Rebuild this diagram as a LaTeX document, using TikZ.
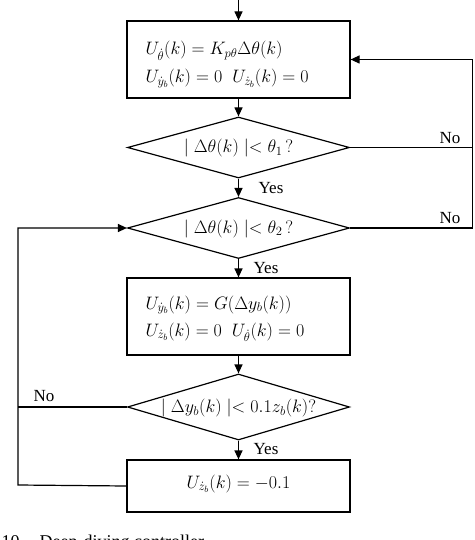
\RequirePackage{fix-cm}
\documentclass[tikz,border=0pt]{standalone}
\usepackage{fontspec}
\setmainfont{Liberation Serif}
\usetikzlibrary{shapes.geometric,arrows.meta}
\begin{document}
\begin{tikzpicture}[x=1pt,y=-1pt,
  line width=1.2pt,
  arr/.style={-{Triangle[length=9pt,width=8pt]}},
  procbox/.style={draw,minimum width=223pt,inner sep=0pt},
  decis/.style={draw,diamond,minimum width=222pt,minimum height=61pt,inner sep=0pt},
  mtext/.style={font=\fontsize{18}{22}\selectfont,inner sep=0pt},
  lbl/.style={font=\fontsize{17}{20}\selectfont,inner sep=0pt}]
\useasboundingbox (0,0) rectangle (474,540);
\node[procbox,minimum height=77pt] (b1) at (238.5,59.5) {};
\node[mtext,anchor=base west] (t11) at (145,55) {$U_{\dot\theta}(k)=K_{p\theta}\Delta\theta(k)$};
\node[mtext,anchor=base west] (t12) at (145,83) {$U_{\dot y_b}(k)=0\;\;U_{\dot z_b}(k)=0$};
\node[decis] (d1) at (238.5,147.5) {};
\node[mtext] (t2) at (238.5,148) {$\mid\Delta\theta(k)\mid< \theta_{1}\,?$};
\node[decis] (d2) at (238.5,228) {};
\node[mtext] (t3) at (238.5,228.5) {$\mid\Delta\theta(k)\mid< \theta_{2}\,?$};
\node[procbox,minimum height=77pt] (b2) at (238.5,316.5) {};
\node[mtext,anchor=base west] (t41) at (145,309) {$U_{\dot y_b}(k)=G(\Delta y_b(k))$};
\node[mtext,anchor=base west] (t42) at (145,336) {$U_{\dot z_b}(k)=0\;\;U_{\dot\theta}(k)=0$};
\node[decis,minimum height=66pt] (d3) at (238.5,407) {};
\node[mtext] (t5) at (238.5,408) {$\mid\Delta y_b(k)\mid< 0.1z_b(k)?$};
\node[procbox,minimum height=52pt] (b3) at (238.5,486) {};
\node[mtext,anchor=base] (t6) at (238.5,488) {$U_{\dot z_b}(k)=-0.1$};
\coordinate (start) at (238.5,0);
\coordinate (r1) at (472.5,147.5);
\coordinate (r2) at (472.5,228);
\coordinate (l1) at (18,407);
\coordinate (l2) at (18,485);
\draw[arr] (start) -- (b1);
\draw[arr] (b1) -- (d1);
\draw[arr] (d1) -- (d2);
\draw[arr] (d2) -- (b2);
\draw[arr] (b2) -- (d3);
\draw[arr] (d3) -- (b3);
\draw[arr] (d1.east) -- (r1) |- (b1.east);
\draw (d2.east) -- (r2) -- (r1);
\draw (d3.west) -- (l1);
\draw[arr] (b3.west) -- (l2) |- (d2.west);
\node[lbl] (y1) at (271,188) {Yes};
\node[lbl] (y2) at (266,268) {Yes};
\node[lbl] (y3) at (266,449.5) {Yes};
\node[lbl] (n1) at (450,138.5) {No};
\node[lbl] (n2) at (450,218.5) {No};
\node[lbl] (n3) at (44,396.5) {No};
\node[font=\fontsize{18}{21}\selectfont,inner sep=0pt,anchor=base west] (cap) at (1,547) {10\hspace{20pt}Deep-diving controller};
\end{tikzpicture}
\end{document}
